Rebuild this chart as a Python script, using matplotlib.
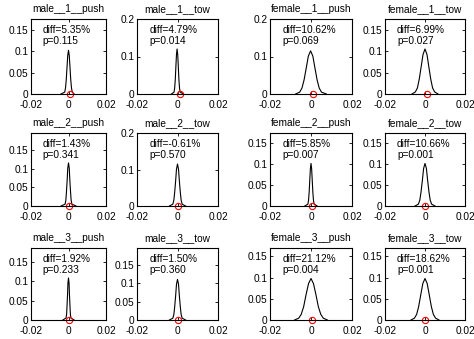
import matplotlib
matplotlib.use("Agg")
import matplotlib.pyplot as plt

plt.rcParams['font.family'] = ['Liberation Sans', 'DejaVu Sans']

titles = ["male__1__push", "male__1__tow", "female__1__push", "female__1__tow",
          "male__2__push", "male__2__tow", "female__2__push", "female__2__tow",
          "male__3__push", "male__3__tow", "female__3__push", "female__3__tow"]
diffs = ["5.35%", "4.79%", "10.62%", "6.99%",
         "1.43%", "-0.61%", "5.85%", "10.66%",
         "1.92%", "1.50%", "21.12%", "18.62%"]
pvals = ["0.115", "0.014", "0.069", "0.027",
         "0.341", "0.570", "0.007", "0.001",
         "0.233", "0.360", "0.004", "0.001"]

curve_x = [
    [-0.004, -0.002, -0.0016, -0.0012, -0.0008, -0.0004, 0, 0.0004, 0.0008, 0.0012, 0.0016, 0.002, 0.003],
    [-0.003, -0.0017, -0.0014, -0.0011, -0.0008, -0.0005, -0.0002, 0.0001, 0.0004, 0.0007, 0.001, 0.0013, 0.003],
    [-0.0075, -0.0055, -0.0044, -0.0034, -0.0023, -0.0013, -0.0002, 0.0009, 0.0019, 0.003, 0.004, 0.0051, 0.0075],
    [-0.0065, -0.0048, -0.0038, -0.0029, -0.0019, -0.001, 0, 0.001, 0.0019, 0.0029, 0.0038, 0.0048, 0.0065],
    [-0.004, -0.0018, -0.0014, -0.0011, -0.0007, -0.0004, 0, 0.0004, 0.0007, 0.0011, 0.0014, 0.0018, 0.004],
    [-0.004, -0.0023, -0.0018, -0.0014, -0.0009, -0.0005, 0, 0.0005, 0.0009, 0.0014, 0.0018, 0.0023, 0.004],
    [-0.003, -0.0015, -0.0012, -0.0009, -0.0006, -0.0003, 0, 0.0003, 0.0006, 0.0009, 0.0012, 0.0015, 0.003],
    [-0.005, -0.0033, -0.0026, -0.002, -0.0013, -0.0007, 0, 0.0007, 0.0013, 0.002, 0.0026, 0.0033, 0.005],
    [-0.003, -0.0013, -0.001, -0.0008, -0.0005, -0.0003, 0, 0.0003, 0.0005, 0.0008, 0.001, 0.0013, 0.003],
    [-0.004, -0.0023, -0.0018, -0.0014, -0.0009, -0.0005, 0, 0.0005, 0.0009, 0.0014, 0.0018, 0.0023, 0.004],
    [-0.008, -0.006, -0.0048, -0.0036, -0.0024, -0.0012, 0, 0.0012, 0.0024, 0.0036, 0.0048, 0.006, 0.008],
    [-0.007, -0.0053, -0.0042, -0.0032, -0.0021, -0.0011, 0, 0.0011, 0.0021, 0.0032, 0.0042, 0.0053, 0.007],
]
curve_y = [
    [0, 0.0045, 0.014, 0.033, 0.062, 0.090, 0.102, 0.090, 0.062, 0.033, 0.014, 0.0045, 0],
    [0, 0.005, 0.016, 0.038, 0.073, 0.106, 0.120, 0.106, 0.073, 0.038, 0.016, 0.005, 0],
    [0, 0.005, 0.016, 0.037, 0.070, 0.101, 0.115, 0.101, 0.070, 0.037, 0.016, 0.005, 0],
    [0, 0.005, 0.014, 0.034, 0.064, 0.092, 0.105, 0.092, 0.064, 0.034, 0.014, 0.005, 0],
    [0, 0.005, 0.016, 0.037, 0.070, 0.101, 0.115, 0.101, 0.070, 0.037, 0.016, 0.005, 0],
    [0, 0.005, 0.016, 0.037, 0.070, 0.101, 0.115, 0.101, 0.070, 0.037, 0.016, 0.005, 0],
    [0, 0.0045, 0.014, 0.033, 0.062, 0.090, 0.102, 0.090, 0.062, 0.033, 0.014, 0.0045, 0],
    [0, 0.0045, 0.014, 0.033, 0.062, 0.090, 0.102, 0.090, 0.062, 0.033, 0.014, 0.0045, 0],
    [0, 0.005, 0.015, 0.035, 0.066, 0.095, 0.108, 0.095, 0.066, 0.035, 0.015, 0.005, 0],
    [0, 0.005, 0.015, 0.035, 0.067, 0.097, 0.110, 0.097, 0.067, 0.035, 0.015, 0.005, 0],
    [0, 0.0043, 0.013, 0.031, 0.060, 0.086, 0.098, 0.086, 0.060, 0.031, 0.013, 0.0043, 0],
    [0, 0.0043, 0.013, 0.031, 0.060, 0.086, 0.098, 0.086, 0.060, 0.031, 0.013, 0.0043, 0],
]
observed_x = [0.0007, 0.0012, 0.0008, 0.0008,
              0.0004, 0.0, 0.0003, 0.0,
              0.0003, 0.0002, 0.0005, 0.0]

y_max = [0.175, 0.2, 0.2, 0.175,
         0.195, 0.2, 0.175, 0.175,
         0.185, 0.195, 0.17, 0.17]
y_ticks = [[0, 0.05, 0.1, 0.15], [0, 0.1, 0.2], [0, 0.1, 0.2], [0, 0.05, 0.1, 0.15],
           [0, 0.05, 0.1, 0.15], [0, 0.1, 0.2], [0, 0.05, 0.1, 0.15], [0, 0.05, 0.1, 0.15],
           [0, 0.05, 0.1, 0.15], [0, 0.05, 0.1, 0.15], [0, 0.05, 0.1, 0.15], [0, 0.05, 0.1, 0.15]]
x_ticks = [-0.02, 0, 0.02]
x_ticklabels = ["-0.02", "0", "0.02"]

W, H = 474, 339
fig = plt.figure(figsize=(W / 100, H / 100), dpi=100)
fig.patch.set_facecolor("white")

col_px = [(31, 106), (137, 218), (270, 352), (385, 465)]
row_px = [(19, 94), (133, 206), (248, 320)]

def fmt(v):
    if v == 0:
        return "0"
    return ("%.2f" % v).rstrip("0")

fs = 7.3
for i in range(12):
    r, c = divmod(i, 4)
    l, rt = col_px[c]
    t, b = row_px[r]
    ax = fig.add_axes([l / W, 1 - b / H, (rt - l) / W, (b - t) / H])
    ax.plot(curve_x[i], curve_y[i], color="black", lw=0.8)
    ax.plot([observed_x[i]], [0], marker="o", ms=4.5, mfc="none", mec="red", mew=0.8,
            clip_on=False)
    ax.set_xlim(-0.02, 0.02)
    ax.set_ylim(0, y_max[i])
    ax.set_xticks(x_ticks)
    ax.set_xticklabels(x_ticklabels)
    ax.set_yticks(y_ticks[i])
    ax.set_yticklabels([fmt(v) for v in y_ticks[i]])
    ax.tick_params(direction="in", length=2, width=0.6, labelsize=fs,
                   top=True, right=True)
    ax.tick_params(axis="x", pad=4.5)
    ax.tick_params(axis="y", pad=2)
    for sp in ax.spines.values():
        sp.set_linewidth(0.8)
    ax.set_title(titles[i], fontsize=fs, pad=5)
    ax.annotate("diff=" + diffs[i], xy=(0.15, 1), xycoords="axes fraction",
                xytext=(0, -8), textcoords="offset points", fontsize=fs,
                ha="left", va="center")
    ax.annotate("p=" + pvals[i], xy=(0.15, 1), xycoords="axes fraction",
                xytext=(0, -16), textcoords="offset points", fontsize=fs,
                ha="left", va="center")

fig.savefig("out.png", dpi=100)
